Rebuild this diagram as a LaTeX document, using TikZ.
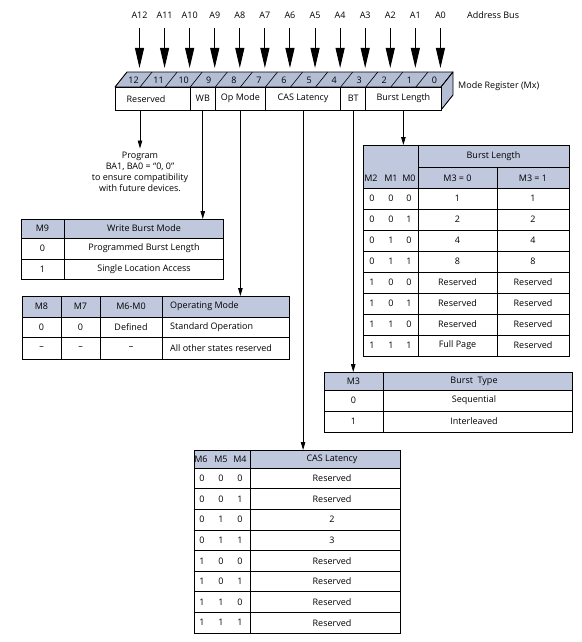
\documentclass[tikz,border=0pt]{standalone}
\usepackage{fontspec}
\setmainfont{Open Sans}
\usetikzlibrary{arrows.meta}
\definecolor{hdr}{HTML}{BFC8DC}
\definecolor{regc}{HTML}{B3BDD3}
\begin{document}
\begin{tikzpicture}[x=1pt,y=-1pt,
  txt/.style={inner sep=0pt, font=\fontsize{9}{10}\selectfont},
  bigarrow/.style={line width=1pt, -{Triangle[width=9pt,length=20pt]}},
  conn/.style={line width=0.8pt, -{Triangle[width=4.5pt,length=8pt]}},
  tabframe/.style={draw, line width=0.8pt, inner sep=0pt, outer sep=0pt, anchor=north west},
  fieldbox/.style={draw, fill=white, line width=0.9pt, minimum height=23pt, inner sep=0pt, outer sep=0pt, anchor=north west, font=\fontsize{9}{10}\selectfont},
  grid/.style={line width=0.6pt},
]
\useasboundingbox (0,0) rectangle (581,642);
\def\w{25.077}
% ---------- register top and side faces
\filldraw[fill=regc, line width=0.9pt, line join=round] (115,87) -- (127,72) -- (453,72) -- (441,87) -- cycle;
\filldraw[fill=regc, line width=0.9pt, line join=round] (441,87) -- (453,72) -- (453,95) -- (441,110) -- cycle;
\foreach \k in {1,...,12} \draw[line width=0.6pt] ({115+\k*\w},87) -- ({127+\k*\w},72);
\foreach \i [count=\k from 0] in {12,11,10,9,8,7,6,5,4,3,2,1,0} {
  \node[txt] (b\i) at ({115+(\k+0.5)*\w+6},80.5) {\i};
  \coordinate (t\i) at ({139.5+\k*\w},72);
  \node[txt] (a\i) at ({139.5+\k*\w},15) {A\i};
  \draw[bigarrow, shorten <=13pt, shorten >=4pt] (a\i.center) -- (t\i);
}
\node[txt, anchor=west] (abus) at (467,15) {Address Bus};
\node[txt, anchor=west] (mreg) at (458,86) {Mode Register (Mx)};
% ---------- register front fields
\node[fieldbox, minimum width=75.23pt] (res) at (115,87) {};
\node[txt] (lres) at (146,99) {Reserved};
\node[fieldbox, minimum width=25.08pt] (wb) at (190.23,87) {WB};
\node[fieldbox, minimum width=50.15pt] (op) at (215.31,87) {Op Mode};
\node[fieldbox, minimum width=75.23pt] (casf) at (265.46,87) {CAS Latency};
\node[fieldbox, minimum width=25.08pt] (btf) at (340.69,87) {BT};
\node[fieldbox, minimum width=75.23pt] (blf) at (365.77,87) {Burst Length};
% ---------- program note
\node[txt, align=center, font=\fontsize{9}{11}\selectfont, anchor=north] (prog) at (140,151.5) {Program\\BA1, BA0 = “0, 0”\\to ensure compatibility\\with future devices.};
\coordinate (resdrop) at (140,110);
\draw[conn, shorten >=3pt] (resdrop) -- (prog.north);
% ---------- M9 table
\fill[hdr] (21,219) rectangle (223,238);
\node[tabframe, minimum width=202pt, minimum height=60pt] (m9) at (21,219) {};
\draw[grid] (21,238) -- (223,238) (21,259) -- (223,259) (64,219) -- (64,279);
\node[txt] (m9h1) at (42.5,228.5) {M9};
\node[txt] (m9h2) at (144,228.5) {Write Burst Mode};
\node[txt] (m9a1) at (42.5,248.5) {0};
\node[txt] (m9b1) at (144,248.5) {Programmed Burst Length};
\node[txt] (m9a2) at (42.5,269) {1};
\node[txt] (m9b2) at (144,269) {Single Location Access};
% ---------- M8 table
\fill[hdr] (22,296) rectangle (289,317);
\node[tabframe, minimum width=267pt, minimum height=63pt] (m8) at (22,296) {};
\draw[grid] (22,317) -- (289,317) (22,337) -- (289,337) (61,296) -- (61,359) (100,296) -- (100,359) (162,296) -- (162,359);
\node[txt] (m8h1) at (41.5,306.5) {M8};
\node[txt] (m8h2) at (80.5,306.5) {M7};
\node[txt] (m8h3) at (131,306.5) {M6-M0};
\node[txt, anchor=west] (m8h4) at (170,306.5) {Operating Mode};
\node[txt] (m8a1) at (41.5,327) {0};
\node[txt] (m8b1) at (80.5,327) {0};
\node[txt] (m8c1) at (131,327) {Defined};
\node[txt, anchor=west] (m8d1) at (170,327) {Standard Operation};
\node[txt] (m8a2) at (41.5,348) {–};
\node[txt] (m8b2) at (80.5,348) {–};
\node[txt] (m8c2) at (131,348) {–};
\node[txt, anchor=west] (m8d2) at (170,348) {All other states reserved};
% ---------- Burst length table
\fill[hdr] (363,145) rectangle (569,188);
\node[tabframe, minimum width=206pt, minimum height=211pt] (bl) at (363,145) {};
\draw[grid] (418,167) -- (569,167) (418,145) -- (418,356) (497,167) -- (497,356);
\foreach \k in {0,...,7} \draw[grid] (363,{188+21*\k}) -- (569,{188+21*\k});
\node[txt] (blh) at (493.5,156) {Burst Length};
\node[txt] (blm2) at (371,178) {M2};
\node[txt] (blm1) at (391,178) {M1};
\node[txt] (blm0) at (409,178) {M0};
\node[txt] (blc0) at (457.5,178) {M3 = 0};
\node[txt] (blc1) at (533,178) {M3 = 1};
\foreach \a/\b/\c/\p/\q [count=\r from 0] in {0/0/0/1/1, 0/0/1/2/2, 0/1/0/4/4, 0/1/1/8/8, 1/0/0/Reserved/Reserved, 1/0/1/Reserved/Reserved, 1/1/0/Reserved/Reserved, 1/1/1/Full Page/Reserved} {
  \node[txt] (bla\r) at (372,{198.5+21*\r}) {\a};
  \node[txt] (blb\r) at (391,{198.5+21*\r}) {\b};
  \node[txt] (blc\r) at (409,{198.5+21*\r}) {\c};
  \node[txt] (blp\r) at (457.5,{198.5+21*\r}) {\p};
  \node[txt] (blq\r) at (533,{198.5+21*\r}) {\q};
}
% ---------- Burst type table
\fill[hdr] (324,372) rectangle (572,390);
\node[tabframe, minimum width=248pt, minimum height=60pt] (bt) at (324,372) {};
\draw[grid] (324,390) -- (572,390) (324,411) -- (572,411) (383,372) -- (383,432);
\node[txt] (bth1) at (353.5,381) {M3};
\node[txt] (bth2) at (474,381) {Burst\ \ Type};
\node[txt] (bta1) at (353.5,400.5) {0};
\node[txt] (btb1) at (474,400.5) {Sequential};
\node[txt] (bta2) at (353.5,421.5) {1};
\node[txt] (btb2) at (474,421.5) {Interleaved};
% ---------- CAS latency table
\fill[hdr] (194,450) rectangle (400,468);
\node[tabframe, minimum width=206pt, minimum height=183pt] (cas) at (194,450) {};
\draw[grid] (250,450) -- (250,633);
\foreach \k in {0,...,7} \draw[grid] (194,{468+20.625*\k}) -- (400,{468+20.625*\k});
\node[txt] (cash6) at (201,459) {M6};
\node[txt] (cash5) at (221,459) {M5};
\node[txt] (cash4) at (240,459) {M4};
\node[txt] (cashl) at (332,459) {CAS Latency};
\foreach \a/\b/\c/\p [count=\r from 0] in {0/0/0/Reserved, 0/0/1/Reserved, 0/1/0/2, 0/1/1/3, 1/0/0/Reserved, 1/0/1/Reserved, 1/1/0/Reserved, 1/1/1/Reserved} {
  \node[txt] (casa\r) at (202,{478.3+20.625*\r}) {\a};
  \node[txt] (casb\r) at (221,{478.3+20.625*\r}) {\b};
  \node[txt] (casc\r) at (240,{478.3+20.625*\r}) {\c};
  \node[txt] (casp\r) at (332,{478.3+20.625*\r}) {\p};
}
% ---------- connectors
\draw[conn] (wb.south) -- (wb.south |- m9.north);
\draw[conn] (op.south) -- (op.south |- m8.north);
\draw[conn] (casf.south) -- (casf.south |- cas.north);
\draw[conn] (btf.south) -- (btf.south |- bt.north);
\draw[conn] (blf.south) -- (blf.south |- bl.north);
\end{tikzpicture}
\end{document}
